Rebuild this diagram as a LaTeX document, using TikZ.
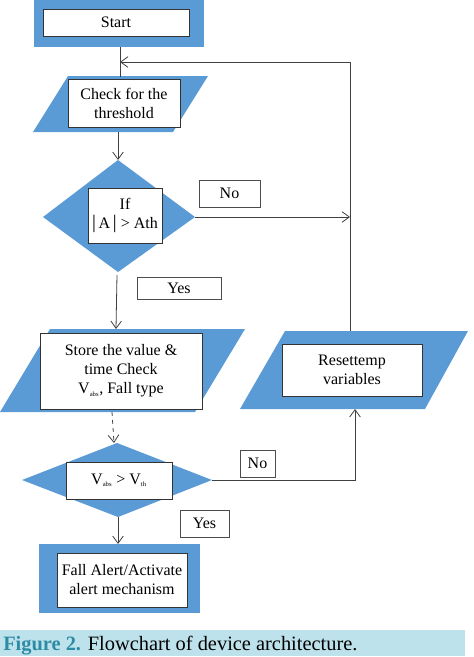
\documentclass[tikz,border=0pt]{standalone}
\usepackage{fontspec}
\setmainfont{Liberation Serif}
\usetikzlibrary{arrows.meta, positioning, calc}
\definecolor{boxblue}{RGB}{91,155,213}
\definecolor{capband}{RGB}{190,226,236}
\definecolor{capteal}{RGB}{45,140,165}
\tikzset{
	inbox/.style = {draw=black!80, fill=white, line width=0.6pt, inner sep=0pt, align=center, font=\fontsize{12}{14.25}\selectfont},
	lablbox/.style = {draw=black!70, fill=white, line width=0.5pt, inner sep=0pt, font=\fontsize{12}{13}\selectfont},
	flow/.style = {draw=black!75, line width=0.6pt},
	tip/.style = {-{Straight Barb[length=5.5pt,width=8pt]}}
}

\begin{document}
\begin{tikzpicture}[x=0.75pt, y=-0.75pt]
	\useasboundingbox (0,0) rectangle (474,657);
	
	% blue backgrounds
	\fill [boxblue] (34,-2) rectangle (204,47);
	\fill [boxblue] (68,76) -- (208,76) -- (173,132) -- (33,132) -- cycle;
	\fill [boxblue] (118,160) -- (195,217) -- (118,272) -- (43,217) -- cycle;
	\fill [boxblue] (50,329) -- (245,329) -- (195,412) -- (0,412) -- cycle;
	\fill [boxblue] (285,331) -- (468,331) -- (425,409) -- (240,409) -- cycle;
	\fill [boxblue] (117,443) -- (212,480) -- (118,517) -- (22,480) -- cycle;
	\fill [boxblue] (39,544) rectangle (200,613);
	
	% white boxes
	\node [inbox, minimum width=109.5pt, minimum height=20.25pt] (start) at (116,22.5) {Start};
	\node [inbox, minimum width=84pt, minimum height=36pt] (check) at (124,103) {Check for the\\threshold};
	\node [inbox, minimum width=55.5pt, minimum height=41.25pt] (ifA) at (125,215.5) {If\\{\Large\textbar}\,A\,{\Large\textbar} > Ath};
	\node [inbox, minimum width=121.5pt, minimum height=57pt] (store) at (121,371) {Store the value \&\\time Check\\V\textsubscript{\tiny abs}, Fall type};
	\node [inbox, minimum width=105pt, minimum height=39pt] (reset) at (352,370) {Resettemp\\variables};
	\node [inbox, minimum width=79.5pt, minimum height=27.75pt] (cmp) at (119,480.5) {V\textsubscript{\tiny abs} > V\textsubscript{\tiny th}};
	\node [inbox, minimum width=97.5pt, minimum height=40.5pt] (alert) at (122,580) {Fall Alert/Activate\\alert mechanism};
	
	% labels
	\node [lablbox, minimum width=45.75pt, minimum height=20.25pt] (no1) at (229.5,193.5) {No};
	\node [lablbox, minimum width=63pt, minimum height=16.5pt] (yes1) at (179,288) {Yes};
	\node [lablbox, minimum width=26.25pt, minimum height=20.25pt] (no2) at (257.5,463.5) {No};
	\node [lablbox, minimum width=36.75pt, minimum height=20.25pt] (yes2) at (204.5,523.5) {Yes};
	
	% connector ends
	\coordinate (startB) at (120,47);
	\coordinate (checkT) at (120,77);
	\coordinate (checkB) at (118,132);
	\coordinate (d1T) at (118,160);
	\coordinate (d1R) at (195,217);
	\coordinate (d1B) at (117,275);
	\coordinate (storeT) at (116,329);
	\coordinate (storeB) at (112,412);
	\coordinate (d2T) at (114,443);
	\coordinate (d2R) at (212,480);
	\coordinate (d2B) at (118,517);
	\coordinate (alertT) at (118,544);
	\coordinate (resetT) at (350,331);
	\coordinate (resetB) at (355,409);
	\coordinate (loopIn) at (120,62);
	\coordinate (noEnd) at (350,217);
	
	\draw [flow] (startB) -- (checkT);
	\draw [flow, tip] (resetT) |- (loopIn);
	\draw [flow, tip] (checkB) -- (d1T);
	\draw [flow, tip] (d1R) -- (noEnd);
	\draw [flow, tip] (d1B) -- (storeT);
	\draw [flow, tip, dashed] (storeB) -- (d2T);
	\draw [flow, tip] (d2R) -| (resetB);
	\draw [flow, tip] (d2B) -- (alertT);
	
	% caption
	\fill [capband] (0,630) rectangle (465,656);
	\node [anchor=base west, inner sep=0pt, font=\fontsize{15.3}{18}\selectfont] (caption) at (3,650) {\textcolor{capteal}{\textbf{Figure 2.}} Flowchart of device architecture.};
	
\end{tikzpicture}
\end{document}
